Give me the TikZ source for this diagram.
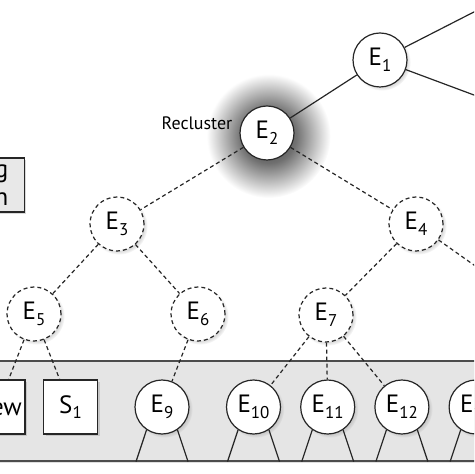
\documentclass[tikz,border=0pt]{standalone}
\usepackage{fontspec}
\setmainfont{PT Sans}
\usetikzlibrary{positioning, calc, shadows, fadings, backgrounds}

\newcommand{\subidx}[2]{#1\raisebox{-2.8pt}{\fontsize{8.5}{9}\selectfont #2}}

\begin{document}
\begin{tikzpicture}[
    x=0.5pt, y=-0.5pt,
    font=\fontsize{12.5}{14}\selectfont,
    ent/.style     ={circle, draw=black!85, fill=white, line width=0.6pt, minimum size=27pt, inner sep=0pt,
                     circular drop shadow={opacity=.3, shadow xshift=1pt, shadow yshift=-1pt, shadow scale=1.06}},
    dashent/.style ={ent, dash pattern=on 2pt off 1.5pt},
    sig/.style     ={rectangle, draw=black!85, fill=white, line width=0.6pt, minimum size=27pt, inner sep=0pt,
                     drop shadow={opacity=.3, shadow xshift=1pt, shadow yshift=-1pt}},
    legend/.style  ={sig, fill=black!9, minimum height=27pt, align=right, inner xsep=8pt},
    band/.style    ={rectangle, draw=black!70, fill=black!10, line width=0.6pt, minimum width=250pt, minimum height=50pt,
                     drop shadow={opacity=.25, shadow xshift=0pt, shadow yshift=-1.2pt}},
    tree/.style    ={line width=0.6pt, black!85},
    dashtree/.style={tree, dash pattern=on 2pt off 1.5pt},
    ]
    \useasboundingbox (0,0) rectangle (474,474);
    \clip (0,0) rectangle (474,474);

    % --- Leaf band ---
    \node[band] (band) at (240,411) {};

    % --- Upper tree ---
    \node[ent] (E1) at (380,60) {\subidx{E}{1}};
    \node[ent] (E2) at (267,133) {\subidx{E}{2}};
    \node[left=0pt of E2, yshift=5pt, font=\fontsize{9}{10}\selectfont] (recl) {Recluster};

    \node[dashent] (E3) at (117,224) {\subidx{E}{3}};
    \node[dashent] (E4) at (416,224) {\subidx{E}{4}};
    \node[dashent] (E5) at (34,314) {\subidx{E}{5}};
    \node[dashent] (E6) at (198,314) {\subidx{E}{6}};
    \node[dashent] (E7) at (326,315) {\subidx{E}{7}};

    % legend box on the left
    \node[legend, anchor=east] (legbox) at (25,185) {Existing\\Region};

    % --- Leaves ---
    \node[sig] (new) at (-2,407) {New};
    \node[sig] (S1) at (70.5,407) {\subidx{S}{1}};
    \node[ent] (E9) at (162,407) {\subidx{E}{9}};
    \node[ent] (E10) at (253.5,407) {\subidx{E}{10}};
    \node[ent, right=9.5pt of E10] (E11) {\subidx{E}{11}};
    \node[ent, right=9.5pt of E11] (E12) {\subidx{E}{12}};
    \node[ent, right=9.5pt of E12] (E13) {\subidx{E}{13}};

    % glow behind the reclustered entry
    \begin{scope}[on background layer]
        \shade[inner color=black, outer color=white] ([xshift=0.8pt,yshift=-1.5pt]E2.center) circle (31pt);
    \end{scope}

    % nodes outside the frame
    \coordinate (E1up) at (560,-32);
    \coordinate (E1right) at (600,142);
    \coordinate (E4right) at (560,326);

    % --- Connections ---
    \draw[tree] (E1) -- (E1up);
    \draw[tree] (E1) -- (E1right);
    \draw[tree] (E1) -- (E2);

    \draw[dashtree] (E2) -- (E3);
    \draw[dashtree] (E2) -- (E4);
    \draw[dashtree] (E3) -- (E5);
    \draw[dashtree] (E3) -- (E6);
    \draw[dashtree] (E4) -- (E7);
    \draw[dashtree] (E4) -- (E4right);
    \draw[dashtree] (E5) -- (new);
    \draw[dashtree] (E5) -- (S1);
    \draw[dashtree] (E6) -- (E9);
    \draw[dashtree] (E7) -- (E10);
    \draw[dashtree] (E7) -- (E11);
    \draw[dashtree] (E7) -- (E12);

    % subtrees below the leaf entries
    \draw[tree] (E9.-124) -- ([xshift=-13pt]E9.south |- band.south);
    \draw[tree] (E9.-56) -- ([xshift=13pt]E9.south |- band.south);
    \draw[tree] (E10.-124) -- ([xshift=-13pt]E10.south |- band.south);
    \draw[tree] (E10.-56) -- ([xshift=13pt]E10.south |- band.south);
    \draw[tree] (E11.-124) -- ([xshift=-13pt]E11.south |- band.south);
    \draw[tree] (E11.-56) -- ([xshift=13pt]E11.south |- band.south);
    \draw[tree] (E12.-124) -- ([xshift=-13pt]E12.south |- band.south);
    \draw[tree] (E12.-56) -- ([xshift=13pt]E12.south |- band.south);
    \draw[tree] (E13.-124) -- ([xshift=-13pt]E13.south |- band.south);
    \draw[tree] (E13.-56) -- ([xshift=13pt]E13.south |- band.south);

\end{tikzpicture}
\end{document}
